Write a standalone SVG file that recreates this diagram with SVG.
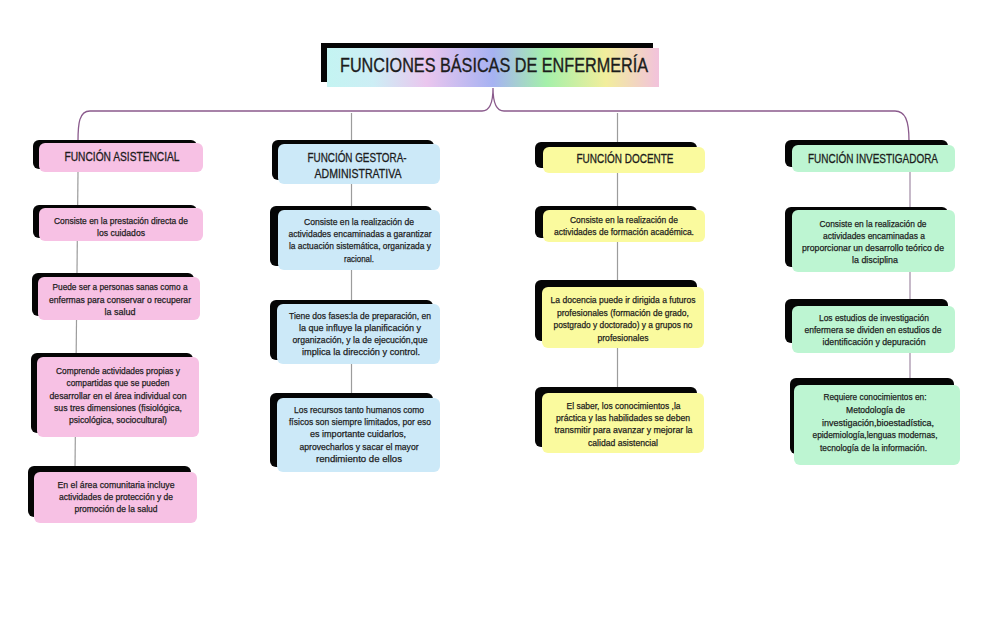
<svg xmlns="http://www.w3.org/2000/svg" width="988" height="640" viewBox="0 0 988 640">
<defs>
<linearGradient id="rainbow" x1="0" y1="0" x2="1" y2="0">
<stop offset="0" stop-color="#c4f4f2"/>
<stop offset="0.14" stop-color="#cdeef5"/>
<stop offset="0.3" stop-color="#eac6ee"/>
<stop offset="0.5" stop-color="#a6b2f2"/>
<stop offset="0.66" stop-color="#a4f0aa"/>
<stop offset="0.84" stop-color="#f2ee9c"/>
<stop offset="1" stop-color="#f2c2dc"/>
</linearGradient>
<style>
.sh{fill:#050505}
.pink{fill:#f7c1e4}
.blue{fill:#cce9f8}
.yel{fill:#fafa9e}
.grn{fill:#bdf5d2}
text{font-family:"Liberation Sans",Arial,sans-serif;fill:#1c1c1c;stroke:#1c1c1c;text-anchor:middle}
.h{font-size:13px;stroke-width:0.3}
.b{font-size:9.8px;stroke-width:0.25}
.t{font-size:21px;stroke-width:0.35}
.gl{stroke:#9c9c9c;stroke-width:1.2;fill:none}
.pl{stroke:#8a5a8c;stroke-width:1.3;fill:none}
.pl2{stroke:#a08aa4;stroke-width:1.2;fill:none}
</style>
</defs>
<rect width="988" height="640" fill="#ffffff"/>

<g id="connectors">
<path class="pl" d="M78 141 C78 124 79 111 90 111 L482 111 C489 111 493 104 493 88 C493 104 497 111 504 111 L895 111 C905 111 909 120 909 141"/>
<line class="gl" x1="351.5" y1="113" x2="351.5" y2="142"/>
<line class="gl" x1="617.5" y1="113" x2="617.5" y2="145"/>
<line class="gl" x1="78" y1="172" x2="75" y2="470"/>
<line class="gl" x1="351.5" y1="184" x2="351.5" y2="396"/>
<line class="gl" x1="617.5" y1="173" x2="617.5" y2="390"/>
<line class="pl2" x1="910" y1="172" x2="910" y2="383"/>
</g>

<g id="title">
<rect class="sh" x="321" y="43" width="332" height="39"/>
<rect x="327" y="48" width="332" height="39" fill="url(#rainbow)"/>
<text class="t" x="494" y="72" textLength="308" lengthAdjust="spacingAndGlyphs">FUNCIONES BÁSICAS DE ENFERMERÍA</text>
</g>

<g id="asistencial">
<rect class="sh" x="33" y="140" width="164" height="29" rx="6"/>
<rect class="pink" x="39" y="143" width="164" height="29" rx="6"/>
<text class="h" x="122" y="161" textLength="115" lengthAdjust="spacingAndGlyphs">FUNCIÓN ASISTENCIAL</text>
</g>
<g id="asis1">
<rect class="sh" x="33" y="205" width="164" height="33" rx="6"/>
<rect class="pink" x="39" y="208" width="164" height="33" rx="6"/>
<text class="b" x="121" y="224" textLength="134" lengthAdjust="spacingAndGlyphs">Consiste en la prestación directa de</text>
<text class="b" x="121" y="235.5" textLength="48" lengthAdjust="spacingAndGlyphs">los cuidados</text>
</g>
<g id="asis2">
<rect class="sh" x="32" y="273" width="162" height="43" rx="6"/>
<rect class="pink" x="38" y="277" width="162" height="43" rx="6"/>
<text class="b" x="120" y="290" textLength="135" lengthAdjust="spacingAndGlyphs">Puede ser a personas sanas como a</text>
<text class="b" x="120" y="302.5" textLength="142" lengthAdjust="spacingAndGlyphs">enfermas para conservar o recuperar</text>
<text class="b" x="120" y="315" textLength="31" lengthAdjust="spacingAndGlyphs">la salud</text>
</g>
<g id="asis3">
<rect class="sh" x="31" y="353" width="162" height="80" rx="6"/>
<rect class="pink" x="37" y="357" width="162" height="80" rx="6"/>
<text class="b" x="118" y="374" textLength="124" lengthAdjust="spacingAndGlyphs">Comprende actividades propias y</text>
<text class="b" x="118" y="386.3" textLength="103" lengthAdjust="spacingAndGlyphs">compartidas que se pueden</text>
<text class="b" x="118" y="398.6" textLength="137" lengthAdjust="spacingAndGlyphs">desarrollar en el área individual con</text>
<text class="b" x="118" y="410.9" textLength="128" lengthAdjust="spacingAndGlyphs">sus tres dimensiones (fisiológica,</text>
<text class="b" x="118" y="423.2" textLength="98" lengthAdjust="spacingAndGlyphs">psicológica, sociocultural)</text>
</g>
<g id="asis4">
<rect class="sh" x="28" y="466" width="163" height="51" rx="6"/>
<rect class="pink" x="34" y="472" width="163" height="51" rx="6"/>
<text class="b" x="116" y="488" textLength="117" lengthAdjust="spacingAndGlyphs">En el área comunitaria incluye</text>
<text class="b" x="116" y="500" textLength="114" lengthAdjust="spacingAndGlyphs">actividades de protección y de</text>
<text class="b" x="116" y="512" textLength="83" lengthAdjust="spacingAndGlyphs">promoción de la salud</text>
</g>

<g id="gestora">
<rect class="sh" x="272" y="140" width="162" height="40" rx="6"/>
<rect class="blue" x="278" y="144" width="162" height="40" rx="6"/>
<text class="h" x="357" y="162" textLength="99" lengthAdjust="spacingAndGlyphs">FUNCIÓN GESTORA-</text>
<text class="h" x="358" y="178" textLength="87" lengthAdjust="spacingAndGlyphs">ADMINISTRATIVA</text>
</g>
<g id="gest1">
<rect class="sh" x="270" y="206" width="162" height="60" rx="6"/>
<rect class="blue" x="278" y="210" width="162" height="60" rx="6"/>
<text class="b" x="359" y="224.5" textLength="110" lengthAdjust="spacingAndGlyphs">Consiste en la realización de</text>
<text class="b" x="360" y="237" textLength="143" lengthAdjust="spacingAndGlyphs">actividades encaminadas a garantizar</text>
<text class="b" x="360" y="249" textLength="142" lengthAdjust="spacingAndGlyphs">la actuación sistemática, organizada y</text>
<text class="b" x="359" y="261.5" textLength="30" lengthAdjust="spacingAndGlyphs">racional.</text>
</g>
<g id="gest2">
<rect class="sh" x="270" y="300" width="163" height="60" rx="6"/>
<rect class="blue" x="277" y="304" width="163" height="60" rx="6"/>
<text class="b" x="360" y="318.5" textLength="142" lengthAdjust="spacingAndGlyphs">Tiene dos fases:la de preparación, en</text>
<text class="b" x="360" y="330.7" textLength="122" lengthAdjust="spacingAndGlyphs">la que influye la planificación y</text>
<text class="b" x="360" y="342.5" textLength="135" lengthAdjust="spacingAndGlyphs">organización, y la de ejecución,que</text>
<text class="b" x="361" y="354.5" textLength="118" lengthAdjust="spacingAndGlyphs">implica la dirección y control.</text>
</g>
<g id="gest3">
<rect class="sh" x="270" y="393" width="163" height="74" rx="6"/>
<rect class="blue" x="277" y="398" width="163" height="74" rx="6"/>
<text class="b" x="359" y="412.5" textLength="130" lengthAdjust="spacingAndGlyphs">Los recursos tanto humanos como</text>
<text class="b" x="360" y="425" textLength="142" lengthAdjust="spacingAndGlyphs">físicos son siempre limitados, por eso</text>
<text class="b" x="358" y="437" textLength="96" lengthAdjust="spacingAndGlyphs">es importante cuidarlos,</text>
<text class="b" x="359" y="449.5" textLength="119" lengthAdjust="spacingAndGlyphs">aprovecharlos y sacar el mayor</text>
<text class="b" x="359" y="462" textLength="86" lengthAdjust="spacingAndGlyphs">rendimiento de ellos</text>
</g>

<g id="docente">
<rect class="sh" x="535" y="142" width="162" height="26" rx="6"/>
<rect class="yel" x="543" y="147" width="162" height="26" rx="6"/>
<text class="h" x="625" y="163" textLength="97" lengthAdjust="spacingAndGlyphs">FUNCIÓN DOCENTE</text>
</g>
<g id="doc1">
<rect class="sh" x="535" y="206" width="162" height="32" rx="6"/>
<rect class="yel" x="543" y="210" width="162" height="32" rx="6"/>
<text class="b" x="624" y="223.3" textLength="108" lengthAdjust="spacingAndGlyphs">Consiste en la realización de</text>
<text class="b" x="624" y="235" textLength="140" lengthAdjust="spacingAndGlyphs">actividades de formación académica.</text>
</g>
<g id="doc2">
<rect class="sh" x="535" y="280" width="162" height="61" rx="6"/>
<rect class="yel" x="542" y="287" width="162" height="61" rx="6"/>
<text class="b" x="623" y="303.3" textLength="145" lengthAdjust="spacingAndGlyphs">La docencia puede ir dirigida a futuros</text>
<text class="b" x="623" y="315.7" textLength="132" lengthAdjust="spacingAndGlyphs">profesionales (formación de grado,</text>
<text class="b" x="623" y="327.9" textLength="139" lengthAdjust="spacingAndGlyphs">postgrado y doctorado) y a grupos no</text>
<text class="b" x="623" y="340.5" textLength="51" lengthAdjust="spacingAndGlyphs">profesionales</text>
</g>
<g id="doc3">
<rect class="sh" x="535" y="387" width="162" height="60" rx="6"/>
<rect class="yel" x="542" y="393" width="162" height="60" rx="6"/>
<text class="b" x="623.5" y="409.3" textLength="114" lengthAdjust="spacingAndGlyphs">El saber, los conocimientos ,la</text>
<text class="b" x="623" y="421" textLength="134" lengthAdjust="spacingAndGlyphs">práctica y las habilidades se deben</text>
<text class="b" x="623.5" y="433.3" textLength="138" lengthAdjust="spacingAndGlyphs">transmitir para avanzar y mejorar la</text>
<text class="b" x="623" y="445.7" textLength="70" lengthAdjust="spacingAndGlyphs">calidad asistencial</text>
</g>

<g id="investigadora">
<rect class="sh" x="785" y="140" width="163" height="27" rx="6"/>
<rect class="grn" x="792" y="145" width="163" height="27" rx="6"/>
<text class="h" x="873" y="163" textLength="130" lengthAdjust="spacingAndGlyphs">FUNCIÓN INVESTIGADORA</text>
</g>
<g id="inv1">
<rect class="sh" x="785" y="207" width="163" height="60" rx="6"/>
<rect class="grn" x="792" y="210" width="163" height="62" rx="6"/>
<text class="b" x="873" y="226.7" textLength="107" lengthAdjust="spacingAndGlyphs">Consiste en la realización de</text>
<text class="b" x="874" y="238.5" textLength="102" lengthAdjust="spacingAndGlyphs">actividades encaminadas a</text>
<text class="b" x="873" y="250.5" textLength="142" lengthAdjust="spacingAndGlyphs">proporcionar un desarrollo teórico de</text>
<text class="b" x="875" y="263.3" textLength="46" lengthAdjust="spacingAndGlyphs">la disciplina</text>
</g>
<g id="inv2">
<rect class="sh" x="785" y="299" width="163" height="44" rx="6"/>
<rect class="grn" x="792" y="306" width="163" height="47" rx="6"/>
<text class="b" x="874" y="320.7" textLength="110" lengthAdjust="spacingAndGlyphs">Los estudios de investigación</text>
<text class="b" x="873" y="332.9" textLength="137" lengthAdjust="spacingAndGlyphs">enfermera se dividen en estudios de</text>
<text class="b" x="874" y="345" textLength="103" lengthAdjust="spacingAndGlyphs">identificación y depuración</text>
</g>
<g id="inv3">
<rect class="sh" x="790" y="378" width="164" height="76" rx="6"/>
<rect class="grn" x="794" y="385" width="166" height="80" rx="6"/>
<text class="b" x="875" y="400" textLength="103" lengthAdjust="spacingAndGlyphs">Requiere conocimientos en:</text>
<text class="b" x="875.5" y="412.5" textLength="59" lengthAdjust="spacingAndGlyphs">Metodología de</text>
<text class="b" x="878" y="425.5" textLength="112" lengthAdjust="spacingAndGlyphs">investigación,bioestadística,</text>
<text class="b" x="875" y="438.3" textLength="125" lengthAdjust="spacingAndGlyphs">epidemiología,lenguas modernas,</text>
<text class="b" x="873.5" y="450.7" textLength="107" lengthAdjust="spacingAndGlyphs">tecnología de la información.</text>
</g>
</svg>
